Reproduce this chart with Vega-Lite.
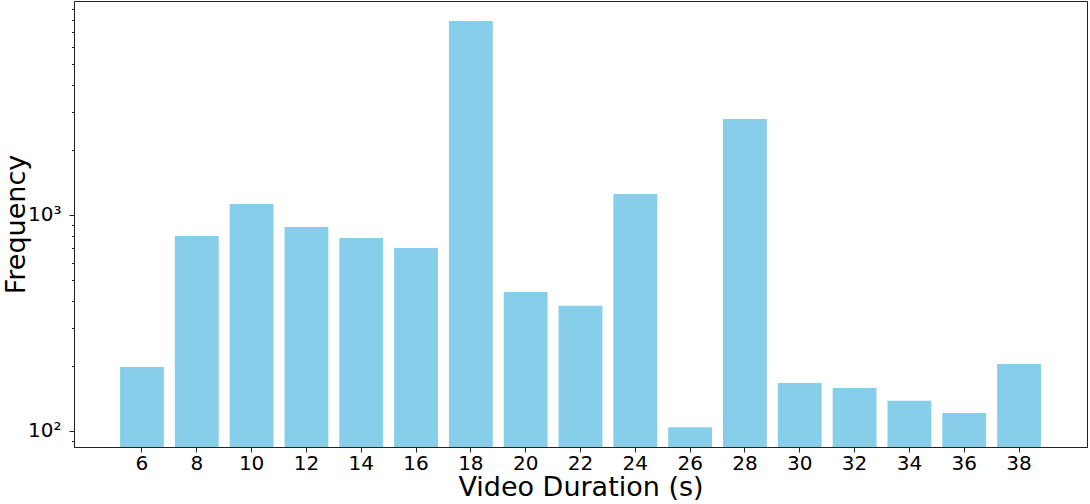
{
  "$schema": "https://vega.github.io/schema/vega-lite/v6.json",
  "width": 1013,
  "height": 446,
  "autosize": "none",
  "padding": {"left": 74, "top": 1, "right": 3, "bottom": 57},
  "background": "white",
  "config": {
    "view": {"stroke": "#222", "strokeWidth": 1},
    "font": "DejaVu Sans",
    "axis": {
      "domainColor": "#222",
      "tickColor": "#222",
      "labelColor": "black",
      "titleColor": "black",
      "labelFont": "DejaVu Sans",
      "titleFont": "DejaVu Sans",
      "labelFontSize": 20,
      "titleFontSize": 27,
      "titleFontWeight": "normal",
      "grid": false
    }
  },
  "data": {
    "values": [
      {"duration": 6, "count": 198},
      {"duration": 8, "count": 800},
      {"duration": 10, "count": 1125},
      {"duration": 12, "count": 880},
      {"duration": 14, "count": 783},
      {"duration": 16, "count": 703},
      {"duration": 18, "count": 7900},
      {"duration": 20, "count": 440},
      {"duration": 22, "count": 380},
      {"duration": 24, "count": 1250},
      {"duration": 26, "count": 104},
      {"duration": 28, "count": 2780},
      {"duration": 30, "count": 167},
      {"duration": 32, "count": 158},
      {"duration": 34, "count": 138},
      {"duration": 36, "count": 121},
      {"duration": 38, "count": 204}
    ]
  },
  "mark": {"type": "bar", "color": "#87CEEB"},
  "encoding": {
    "x": {
      "field": "duration",
      "type": "ordinal",
      "title": "Video Duration (s)",
      "scale": {"paddingInner": 0.2, "paddingOuter": 0.84},
      "axis": {
        "labelAngle": 0,
        "tickSize": 5,
        "labelFontSize": 20,
        "labelPadding": 1,
        "titlePadding": 1
      }
    },
    "y": {
      "field": "count",
      "type": "quantitative",
      "title": "Frequency",
      "stack": null,
      "scale": {"type": "log", "domain": [84.3, 9790], "nice": false},
      "axis": {
        "values": [90, 100, 200, 300, 400, 500, 600, 700, 800, 900, 1000, 2000, 3000, 4000, 5000, 6000, 7000, 8000, 9000],
        "labelExpr": "datum.value == 100 ? '10²' : datum.value == 1000 ? '10³' : ''",
        "tickSize": {"condition": {"test": "datum.value == 100 || datum.value == 1000", "value": 5}, "value": 2.5},
        "labelFontSize": 20,
        "labelPadding": 8,
        "titlePadding": -3,
        "labelFlush": false
      }
    },
    "y2": {"datum": 84.3}
  }
}
